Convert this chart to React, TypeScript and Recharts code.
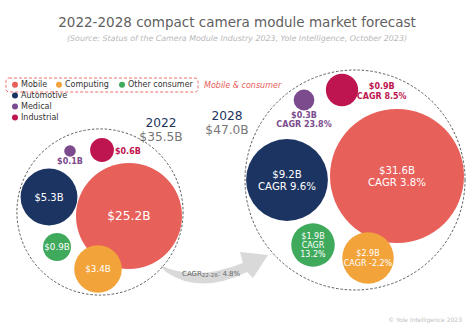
import React from "react";
import { ScatterChart, Scatter, XAxis, YAxis, ZAxis } from "recharts";

const SEGMENTS = ["Mobile", "Computing", "Other consumer", "Automotive", "Medical", "Industrial"];
const YEARS = ["2022", "2028"];
const TOTALS = [35.5, 47.0];
const VALUES_2022 = [25.2, 3.4, 0.9, 5.3, 0.1, 0.6];
const VALUES_2028 = [31.6, 2.9, 1.9, 9.2, 0.3, 0.9];
const CAGR_22_28 = [3.8, -2.2, 13.2, 9.6, 23.8, 8.5];
const TOTAL_CAGR = 4.8;

// packed layout of the bubbles, in chart units (the canvas is 474 x 331)
const POS_2022 = [[129, 216], [98, 269], [57, 247], [49, 197], [70, 151], [102, 150]];
const POS_2028 = [[397, 176], [368, 258], [313, 245], [287, 180], [304, 100], [342, 90]];
const RING_POS = [[100, 212], [355, 180]];
const YEAR_LABEL_POS = [[161, 127], [227, 120]];

const COLORS = ["#e8605a", "#f2a33a", "#3faa5c", "#1c3461", "#7b4b8e", "#be1550"];
const LABEL_SIDE = ["in", "in", "in", "in", "below", "right"];
const FONT = "'DejaVu Sans', sans-serif";
const W = 474;
const H = 331;

// minimal pow scale so bubble area can follow value^k (the infographic is not area-true)
function powScale(exponent: number) {
  let dom = [0, 1];
  let rng = [0, 1];
  const f = (v: number) => Math.sign(v) * Math.pow(Math.abs(v), exponent);
  const scale: any = (v: number) => {
    const den = f(dom[1]) - f(dom[0]) || 1;
    return rng[0] + ((f(v) - f(dom[0])) / den) * (rng[1] - rng[0]);
  };
  scale.domain = (d?: any[]) => {
    if (!d) return dom;
    dom = d.map(Number);
    return scale;
  };
  scale.range = (r?: any[]) => {
    if (!r) return rng;
    rng = r.map(Number);
    return scale;
  };
  scale.copy = () => powScale(exponent).domain(dom).range(rng);
  scale.ticks = () => dom;
  scale.tickFormat = () => (v: number) => String(v);
  scale.nice = () => scale;
  scale.clamp = () => scale;
  return scale;
}

const BUBBLE_SCALE = powScale(0.8);
const RING_SCALE = powScale(2);

const toBubbles = (values: number[], pos: number[][], withCagr: boolean) =>
  SEGMENTS.map((name, i) => ({
    name,
    seg: i,
    value: values[i],
    cagr: withCagr ? CAGR_22_28[i] : null,
    x: pos[i][0],
    y: pos[i][1],
  }));

const data2022 = toBubbles(VALUES_2022, POS_2022, false);
const data2028 = toBubbles(VALUES_2028, POS_2028, true);
const ringData = YEARS.map((year, i) => ({ year, value: TOTALS[i], x: RING_POS[i][0], y: RING_POS[i][1] }));

const radiusOf = (props: any) =>
  props.size != null ? Math.sqrt(Math.max(props.size, 0) / Math.PI) : (props.width || 0) / 2;

const Bubble = (props: any) => {
  const { cx, cy, payload } = props;
  const r = radiusOf(props);
  const side = LABEL_SIDE[payload.seg];
  const money = `$${payload.value.toFixed(1)}B`;
  let lines = [money];
  if (payload.cagr != null) {
    const c = payload.cagr.toFixed(1);
    lines = side === "in" && r < 24 ? [money, "CAGR", `${c}%`] : [money, `CAGR ${c}%`];
  }
  let fs = 8;
  if (side === "in") {
    if (r > 38) fs = lines.length > 1 ? 10.2 : 12.2;
    else if (r > 27) fs = 10;
    else fs = lines.length > 1 ? 8 : 8.8;
  }
  const lh = fs * 1.15;
  const color = side === "in" ? "#ffffff" : COLORS[payload.seg];
  let tx = cx;
  let firstY = cy - ((lines.length - 1) * lh) / 2;
  if (side === "below") firstY = cy + r + 4.5;
  if (side === "right") {
    const longest = Math.max(...lines.map((l) => l.length));
    tx = cx + r + 2 + longest * fs * 0.3;
    firstY = cy + 1 - ((lines.length - 1) * lh) / 2;
  }
  return (
    <g>
      <circle cx={cx} cy={cy} r={r} fill={COLORS[payload.seg]} />
      <text
        x={tx}
        y={firstY}
        textAnchor="middle"
        dominantBaseline="central"
        fontFamily={FONT}
        fontSize={fs}
        fontWeight={side === "in" ? 500 : 600}
        fill={color}
      >
        {lines.map((l, i) => (
          <tspan key={i} x={tx} dy={i === 0 ? 0 : lh}>
            {l}
          </tspan>
        ))}
      </text>
    </g>
  );
};

const Ring = (props: any) => (
  <circle
    cx={props.cx}
    cy={props.cy}
    r={radiusOf(props)}
    fill="none"
    stroke="#4a4a4a"
    strokeWidth={0.9}
    strokeDasharray="2.5 1.8"
  />
);

const LEGEND_ROW_X = [15, 59, 122];

export default function App() {
  return (
    <div style={{ position: "absolute", left: 0, top: 0, width: W, height: H, background: "#fff" }}>
      <ScatterChart width={W} height={H} margin={{ top: 0, right: 0, bottom: 0, left: 0 }}>
        <XAxis type="number" dataKey="x" domain={[0, W]} hide allowDataOverflow />
        <YAxis type="number" dataKey="y" domain={[0, H]} reversed hide allowDataOverflow />
        <ZAxis zAxisId="ring" type="number" dataKey="value" domain={[0, Math.max(...TOTALS)]} range={[0, Math.PI * 110 * 110]} scale={RING_SCALE} />
        <ZAxis zAxisId="y2022" type="number" dataKey="value" domain={[0, Math.max(...VALUES_2022)]} range={[0, Math.PI * 53 * 53]} scale={BUBBLE_SCALE} />
        <ZAxis zAxisId="y2028" type="number" dataKey="value" domain={[0, Math.max(...VALUES_2028)]} range={[0, Math.PI * 67 * 67]} scale={BUBBLE_SCALE} />

        {/* growth arrow between the two years */}
        <path
          d="M160 265 Q195 282 243 263 L240 252 L268 255 L253 278 L247 272 Q200 295 166 272 Z"
          fill="#d9d9d9"
        />
        <text x={182} y={275.5} fontFamily={FONT} fontSize={7} fill="#666">
          CAGR
          <tspan fontSize={5.5} dy={1.5}>22-28</tspan>
          <tspan dy={-1.5}>: {TOTAL_CAGR.toFixed(1)}%</tspan>
        </text>

        <Scatter data={ringData} zAxisId="ring" shape={<Ring />} isAnimationActive={false} />
        <Scatter data={data2022} zAxisId="y2022" shape={<Bubble />} isAnimationActive={false} />
        <Scatter data={data2028} zAxisId="y2028" shape={<Bubble />} isAnimationActive={false} />

        <text x={237} y={27} textAnchor="middle" fontFamily={FONT} fontSize={13.5} fill="#5f5f5f">
          2022-2028 compact camera module market forecast
        </text>
        <text x={237} y={41} textAnchor="middle" fontFamily={FONT} fontSize={7.9} fontStyle="italic" fill="#b8b8b8">
          (Source: Status of the Camera Module Industry 2023, Yole Intelligence, October 2023)
        </text>

        {YEARS.map((year, i) => (
          <g key={year}>
            <text x={YEAR_LABEL_POS[i][0]} y={YEAR_LABEL_POS[i][1]} textAnchor="middle" fontFamily={FONT} fontSize={12.2} fill="#1c3461">
              {year}
            </text>
            <text x={YEAR_LABEL_POS[i][0]} y={YEAR_LABEL_POS[i][1] + 14} textAnchor="middle" fontFamily={FONT} fontSize={12.2} fill="#777">
              ${TOTALS[i].toFixed(1)}B
            </text>
          </g>
        ))}

        {/* legend */}
        <rect x={6} y={78} width={192} height={14} rx={3} fill="none" stroke="#e8605a" strokeWidth={0.9} strokeDasharray="3 2" />
        {SEGMENTS.map((name, i) => {
          const inBox = i < 3;
          const x = inBox ? LEGEND_ROW_X[i] : 15;
          const y = inBox ? 84.8 : 95.5 + (i - 3) * 11;
          return (
            <g key={name}>
              <circle cx={x} cy={y} r={3} fill={COLORS[i]} />
              <text x={x + 6} y={y} dominantBaseline="central" fontFamily={FONT} fontSize={8} fill="#333">
                {name}
              </text>
            </g>
          );
        })}
        <text x={204} y={85} dominantBaseline="central" fontFamily={FONT} fontSize={8} fontStyle="italic" fill="#e8605a">
          Mobile &amp; consumer
        </text>

        <text x={462} y={322} textAnchor="end" fontFamily={FONT} fontSize={6} fill="#c0c0c0">
          © Yole Intelligence 2023
        </text>
      </ScatterChart>
    </div>
  );
}
